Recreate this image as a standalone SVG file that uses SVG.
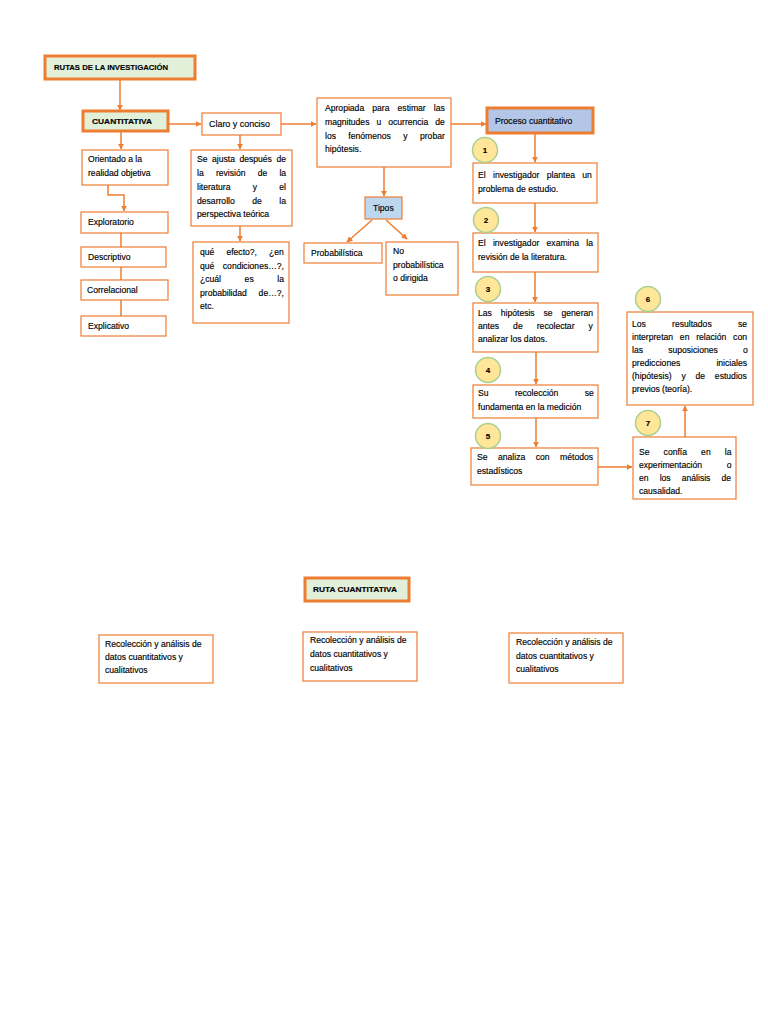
<svg xmlns="http://www.w3.org/2000/svg" width="768" height="1024" viewBox="0 0 768 1024">
<defs>
<style>
.box{fill:#fff;stroke:#ed7d31;stroke-width:1.2}
.thick{fill:#e2efd9;stroke:#ed7d31;stroke-width:3}
.blue{fill:#b4c6e7;stroke:#ed7d31;stroke-width:3}
.tipos{fill:#bdd7ee;stroke:#ed7d31;stroke-width:1.2}
.circ{fill:#ffe699;stroke:#a9d18e;stroke-width:1.5}
text{font-family:"Liberation Sans",Arial,sans-serif;font-size:8.6px;fill:#000;stroke:#000;stroke-width:0.15}
.b{font-weight:bold;font-size:7.5px}
.n{font-weight:bold;font-size:8px;text-anchor:middle}
.con{stroke:#ed7d31;stroke-width:1.5;fill:none}
.arr{marker-end:url(#ah)}
</style>
<marker id="ah" viewBox="0 0 10 10" refX="9" refY="5" markerWidth="6" markerHeight="6" markerUnits="userSpaceOnUse" orient="auto"><path d="M0,0 L10,5 L0,10 z" fill="#ed7d31"/></marker>
</defs>
<rect width="768" height="1024" fill="#fff"/>

<g id="connectors">
<path class="con arr" d="M120,80 V110"/>
<path class="con arr" d="M168,124 H201"/>
<path class="con arr" d="M281,124 H316"/>
<path class="con arr" d="M451,124 H486"/>
<path class="con arr" d="M121,131 V149"/>
<path class="con arr" d="M108,185 V195 H124 V211"/>
<path class="con" d="M121,233 V247"/>
<path class="con" d="M121,267 V280"/>
<path class="con" d="M121,300 V316"/>
<path class="con arr" d="M240,135 V149"/>
<path class="con arr" d="M240,226 V241"/>
<path class="con arr" d="M384,167 V196"/>
<path class="con arr" d="M372,220 L347,242"/>
<path class="con arr" d="M386,220 L407,239"/>
<path class="con arr" d="M535,133 V162"/>
<path class="con arr" d="M535,203 V232"/>
<path class="con arr" d="M535,272 V302"/>
<path class="con arr" d="M536,352 V384"/>
<path class="con arr" d="M536,418 V447"/>
<path class="con arr" d="M598,467 H632"/>
<path class="con arr" d="M685,437 V406"/>
</g>

<g id="rutas">
<rect class="thick" x="45" y="56" width="150" height="23"/>
<text class="b" x="54" y="70" textLength="114" lengthAdjust="spacingAndGlyphs">RUTAS DE LA INVESTIGACIÓN</text>
</g>
<g id="cuantitativa">
<rect class="thick" x="83" y="111" width="85" height="20"/>
<text class="b" x="92" y="124" textLength="60" lengthAdjust="spacingAndGlyphs">CUANTITATIVA</text>
</g>
<g id="claro">
<rect class="box" x="202" y="113" width="79" height="22"/>
<text x="209" y="127" textLength="61" lengthAdjust="spacingAndGlyphs">Claro y conciso</text>
</g>
<g id="orientado">
<rect class="box" x="82" y="150" width="86" height="35"/>
<text x="88" y="162">Orientado a la</text>
<text x="88" y="176">realidad objetiva</text>
</g>
<g id="exploratorio">
<rect class="box" x="81" y="212" width="87" height="21"/>
<text x="88" y="225">Exploratorio</text>
</g>
<g id="descriptivo">
<rect class="box" x="81" y="247" width="85" height="20"/>
<text x="88" y="260">Descriptivo</text>
</g>
<g id="correlacional">
<rect class="box" x="81" y="280" width="87" height="20"/>
<text x="87" y="293">Correlacional</text>
</g>
<g id="explicativo">
<rect class="box" x="81" y="316" width="85" height="20"/>
<text x="88" y="329">Explicativo</text>
</g>
<g id="seajusta">
<rect class="box" x="191" y="150" width="101" height="76"/>
<text x="197" y="162" word-spacing="2.1">Se ajusta después de</text>
<text x="197" y="176" word-spacing="9.8">la revisión de la</text>
<text x="197" y="190" word-spacing="19.9">literatura y el</text>
<text x="197" y="204" word-spacing="15.1">desarrollo de la</text>
<text x="197" y="217">perspectiva teórica</text>
</g>
<g id="que">
<rect class="box" x="193" y="242" width="96" height="81"/>
<text x="200" y="255" word-spacing="9.7">qué efecto?, ¿en</text>
<text x="200" y="269" word-spacing="6.1">qué condiciones…?,</text>
<text x="200" y="282" word-spacing="21.2">¿cuál es la</text>
<text x="200" y="296" word-spacing="9.4">probabilidad de…?,</text>
<text x="200" y="309">etc.</text>
</g>
<g id="apropiada">
<rect class="box" x="317" y="98" width="134" height="69"/>
<text x="325" y="111" word-spacing="5.7">Apropiada para estimar las</text>
<text x="325" y="125" word-spacing="4.6">magnitudes u ocurrencia de</text>
<text x="325" y="139" word-spacing="10">los fenómenos y probar</text>
<text x="325" y="152">hipótesis.</text>
</g>
<g id="tipos">
<rect class="tipos" x="365" y="197" width="37" height="22"/>
<text x="373" y="211">Tipos</text>
</g>
<g id="probabilistica">
<rect class="box" x="304" y="243" width="78" height="20"/>
<text x="311" y="256">Probabilística</text>
</g>
<g id="noprobabilistica">
<rect class="box" x="386" y="242" width="72" height="53"/>
<text x="393" y="254">No</text>
<text x="393" y="268">probabilística</text>
<text x="393" y="281">o dirigida</text>
</g>
<g id="proceso">
<rect class="blue" x="487" y="108" width="106" height="25"/>
<text x="495" y="124">Proceso cuantitativo</text>
</g>
<g id="paso1">
<rect class="box" x="473" y="163" width="124" height="40"/>
<text x="478" y="178" word-spacing="5">El investigador plantea un</text>
<text x="478" y="192">problema de estudio.</text>
</g>
<g id="paso2">
<rect class="box" x="473" y="233" width="125" height="39"/>
<text x="478" y="246" word-spacing="4.9">El investigador examina la</text>
<text x="478" y="260">revisión de la literatura.</text>
</g>
<g id="paso3">
<rect class="box" x="473" y="303" width="125" height="49"/>
<text x="478" y="316" word-spacing="6.5">Las hipótesis se generan</text>
<text x="478" y="329" word-spacing="11.7">antes de recolectar y</text>
<text x="478" y="342">analizar los datos.</text>
</g>
<g id="paso4">
<rect class="box" x="473" y="385" width="125" height="33"/>
<text x="478" y="396" word-spacing="24">Su recolección se</text>
<text x="478" y="410">fundamenta en la medición</text>
</g>
<g id="paso5">
<rect class="box" x="471" y="448" width="127" height="37"/>
<text x="477" y="460" word-spacing="8.1">Se analiza con métodos</text>
<text x="477" y="474">estadísticos</text>
</g>
<g id="paso6">
<rect class="box" x="627" y="312" width="126" height="93"/>
<text x="632" y="327" word-spacing="23.8">Los resultados se</text>
<text x="632" y="340" word-spacing="4.4">interpretan en relación con</text>
<text x="632" y="353" word-spacing="22.8">las suposiciones o</text>
<text x="632" y="366" word-spacing="33.8">predicciones iniciales</text>
<text x="632" y="379" word-spacing="7.4">(hipótesis) y de estudios</text>
<text x="632" y="392">previos (teoría).</text>
</g>
<g id="paso7">
<rect class="box" x="633" y="437" width="103" height="62"/>
<text x="639" y="455" word-spacing="11.7">Se confía en la</text>
<text x="639" y="468" word-spacing="22.2">experimentación o</text>
<text x="639" y="481" word-spacing="8.7">en los análisis de</text>
<text x="639" y="494">causalidad.</text>
</g>
<g id="circulo1"><circle class="circ" cx="485" cy="150" r="12.5"/><text class="n" x="485" y="153">1</text></g>
<g id="circulo2"><circle class="circ" cx="486" cy="220" r="12.5"/><text class="n" x="486" y="223">2</text></g>
<g id="circulo3"><circle class="circ" cx="488" cy="289" r="12.5"/><text class="n" x="488" y="292">3</text></g>
<g id="circulo4"><circle class="circ" cx="488" cy="370" r="12.5"/><text class="n" x="488" y="373">4</text></g>
<g id="circulo5"><circle class="circ" cx="488" cy="436" r="12.5"/><text class="n" x="488" y="439">5</text></g>
<g id="circulo6"><circle class="circ" cx="648" cy="299" r="12.5"/><text class="n" x="648" y="302">6</text></g>
<g id="circulo7"><circle class="circ" cx="648" cy="423" r="12.5"/><text class="n" x="648" y="426">7</text></g>

<g id="rutacuantitativa">
<rect class="thick" x="305" y="578" width="104" height="23"/>
<text class="b" x="313" y="592" textLength="84" lengthAdjust="spacingAndGlyphs">RUTA CUANTITATIVA</text>
</g>
<g id="recoleccion1">
<rect class="box" x="99" y="635" width="114" height="48"/>
<text x="105" y="647">Recolección y análisis de</text>
<text x="105" y="660">datos cuantitativos y</text>
<text x="105" y="673">cualitativos</text>
</g>
<g id="recoleccion2">
<rect class="box" x="303" y="632" width="114" height="49"/>
<text x="310" y="643">Recolección y análisis de</text>
<text x="310" y="657">datos cuantitativos y</text>
<text x="310" y="671">cualitativos</text>
</g>
<g id="recoleccion3">
<rect class="box" x="509" y="633" width="114" height="50"/>
<text x="516" y="645">Recolección y análisis de</text>
<text x="516" y="659">datos cuantitativos y</text>
<text x="516" y="672">cualitativos</text>
</g>
</svg>
